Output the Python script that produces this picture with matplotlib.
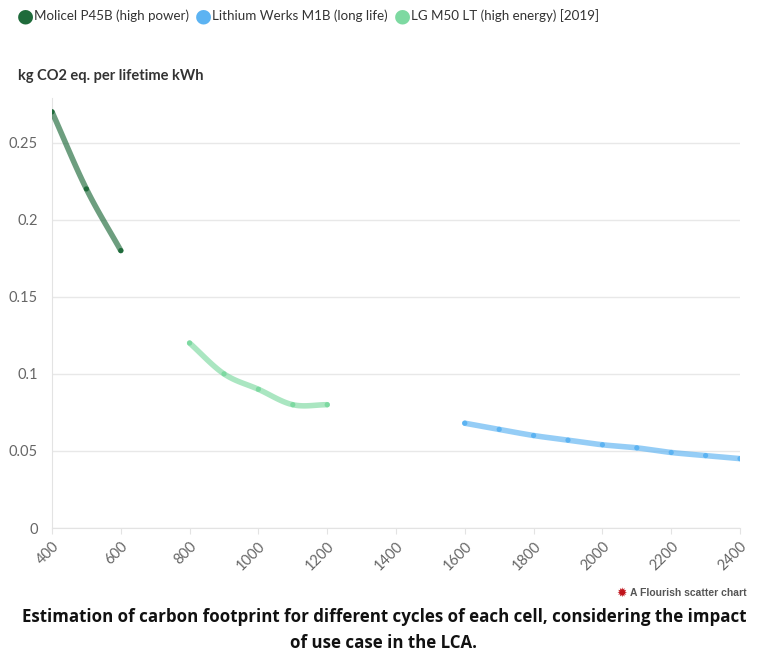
import matplotlib
matplotlib.use("Agg")
import matplotlib.pyplot as plt
import numpy as np

# data
molicel_x = [400, 500, 600]
molicel_y = [0.27, 0.22, 0.18]
werks_x = [1600, 1700, 1800, 1900, 2000, 2100, 2200, 2300, 2400]
werks_y = [0.068, 0.064, 0.060, 0.057, 0.054, 0.052, 0.049, 0.047, 0.045]
lg_x = [800, 900, 1000, 1100, 1200]
lg_y = [0.12, 0.10, 0.09, 0.08, 0.08]

names = ["Molicel P45B (high power)", "Lithium Werks M1B (long life)",
         "LG M50 LT (high energy) [2019]"]
colors = ["#1f6b3b", "#5cb3f2", "#7dd9a1"]


def catmull(xs, ys, n=30):
    # simple catmull-rom smoothing through the points
    x = np.asarray(xs, float)
    y = np.asarray(ys, float)
    px = np.concatenate([[2 * x[0] - x[1]], x, [2 * x[-1] - x[-2]]])
    py = np.concatenate([[2 * y[0] - y[1]], y, [2 * y[-1] - y[-2]]])
    ox, oy = [], []
    t = np.linspace(0, 1, n)
    for i in range(1, len(px) - 2):
        for p, out in ((px, ox), (py, oy)):
            p0, p1, p2, p3 = p[i - 1], p[i], p[i + 1], p[i + 2]
            out.extend(0.5 * (2 * p1 + (-p0 + p2) * t
                              + (2 * p0 - 5 * p1 + 4 * p2 - p3) * t ** 2
                              + (-p0 + 3 * p1 - 3 * p2 + p3) * t ** 3))
    return ox, oy


plt.rcParams['font.family'] = ['Lato', 'DejaVu Sans']

fig = plt.figure(figsize=(7.68, 6.64), dpi=100)
ax = fig.add_axes([52 / 768, 1 - 528 / 664, 688 / 768, 430 / 664])

series = [(molicel_x, molicel_y), (werks_x, werks_y), (lg_x, lg_y)]
for (xs, ys), c in zip(series, colors):
    sx, sy = catmull(xs, ys)
    ax.plot(sx, sy, color=c, lw=4, alpha=0.65, solid_capstyle='round', zorder=3)
    ax.scatter(xs, ys, s=14, color=c, zorder=4, edgecolors='none')

ax.set_xlim(400, 2400)
ax.set_ylim(0, 0.279)
ax.set_xticks(np.arange(400, 2401, 200))
ax.set_yticks([0, 0.05, 0.1, 0.15, 0.2, 0.25])
ax.set_yticklabels(["0", "0.05", "0.1", "0.15", "0.2", "0.25"])
ax.grid(axis='y', color='#e8e8e8', lw=1)
ax.set_axisbelow(True)
for s in ['top', 'right']:
    ax.spines[s].set_visible(False)
ax.spines['left'].set_color('#e3e3e3')
ax.spines['bottom'].set_color('#e3e3e3')
ax.tick_params(axis='both', colors='#666666', labelsize=10.5, length=0, pad=10)
ax.tick_params(axis='x', length=4, color='#e3e3e3', pad=4)
plt.setp(ax.get_xticklabels(), rotation=45, ha='right', rotation_mode='anchor')

# legend row on top, laid out by measured text widths
r = fig.canvas.get_renderer()
x0 = 17
for n, c in zip(names, colors):
    fig.text(x0 / 768, 1 - 16 / 664, "\u25CF", color=c, fontsize=14,
             va='center', ha='left', family='DejaVu Sans')
    t = fig.text((x0 + 17) / 768, 1 - 16 / 664, n, color='#333333', fontsize=9.6,
                 va='center', ha='left')
    w = t.get_window_extent(r).width
    x0 = x0 + 17 + w + 6

fig.text(18 / 768, 1 - 76 / 664, "kg CO2 eq. per lifetime kWh", fontsize=10.5,
         fontweight='bold', color='#333333', va='center', ha='left')

fig.text(627 / 768, 1 - 593 / 664, "\u2739", color='#c0141c', fontsize=9,
         va='center', ha='right', family='DejaVu Sans')
fig.text(630 / 768, 1 - 593 / 664, "A Flourish scatter chart", color='#555555',
         fontsize=7.5, fontweight='bold', va='center', ha='left',
         family='Liberation Sans')

fig.text(0.5, 1 - 630 / 664,
         "Estimation of carbon footprint for different cycles of each cell, considering the impact\nof use case in the LCA.",
         ha='center', va='center', fontsize=12.2, fontweight='bold', color='#111111',
         family=['Open Sans', 'DejaVu Sans'], linespacing=1.5)

fig.savefig("out.png", dpi=100)
